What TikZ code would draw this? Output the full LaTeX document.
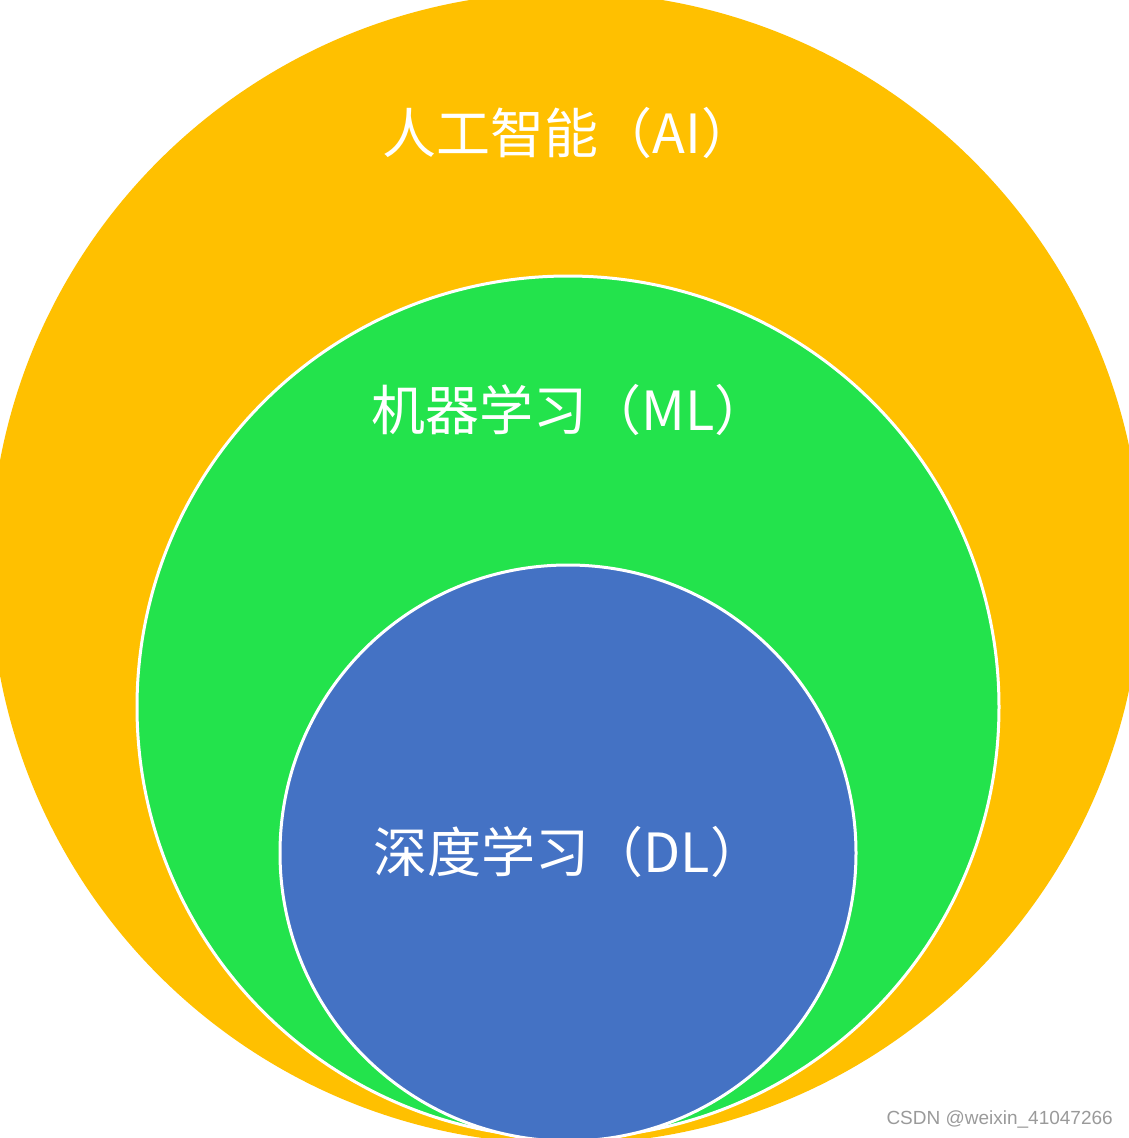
\documentclass[tikz,border=0pt]{standalone}
\usepackage{fontspec}
\newfontfamily\cjk{Noto Sans CJK SC}
\newfontfamily\wm{Liberation Sans}
\definecolor{aiorange}{HTML}{FFC000}
\definecolor{mlgreen}{HTML}{23E34C}
\definecolor{dlblue}{HTML}{4472C4}
\definecolor{wmgray}{HTML}{9A9A9A}
\begin{document}
\begin{tikzpicture}[x=1pt,y=-1pt,
  ring/.style={circle, inner sep=0pt, outer sep=0pt},
  label/.style={text=white, font=\cjk\fontsize{54}{60}\selectfont, inner sep=0pt}]
\useasboundingbox (0,0) rectangle (1129,1138);
\clip (0,0) rectangle (1129,1138);
\node[ring, fill=aiorange, minimum size=1152pt] (ai) at (566,568) {};
\node[ring, fill=mlgreen, draw=white, line width=3pt, minimum size=862pt] (ml) at (568,707) {};
\node[ring, fill=dlblue, draw=white, line width=3pt, minimum size=576pt] (dl) at (568,853) {};
\node[label] (ailabel) at (569,133) {人工智能（AI）};
\node[label] (mllabel) at (570,410) {机器学习（ML）};
\node[label] (dllabel) at (569,852) {深度学习（DL）};
\node[text=wmgray, font=\wm\fontsize{19}{21}\selectfont, inner sep=0pt, anchor=east] (mark) at (1113,1119) {CSDN @weixin\_41047266};
\end{tikzpicture}
\end{document}
